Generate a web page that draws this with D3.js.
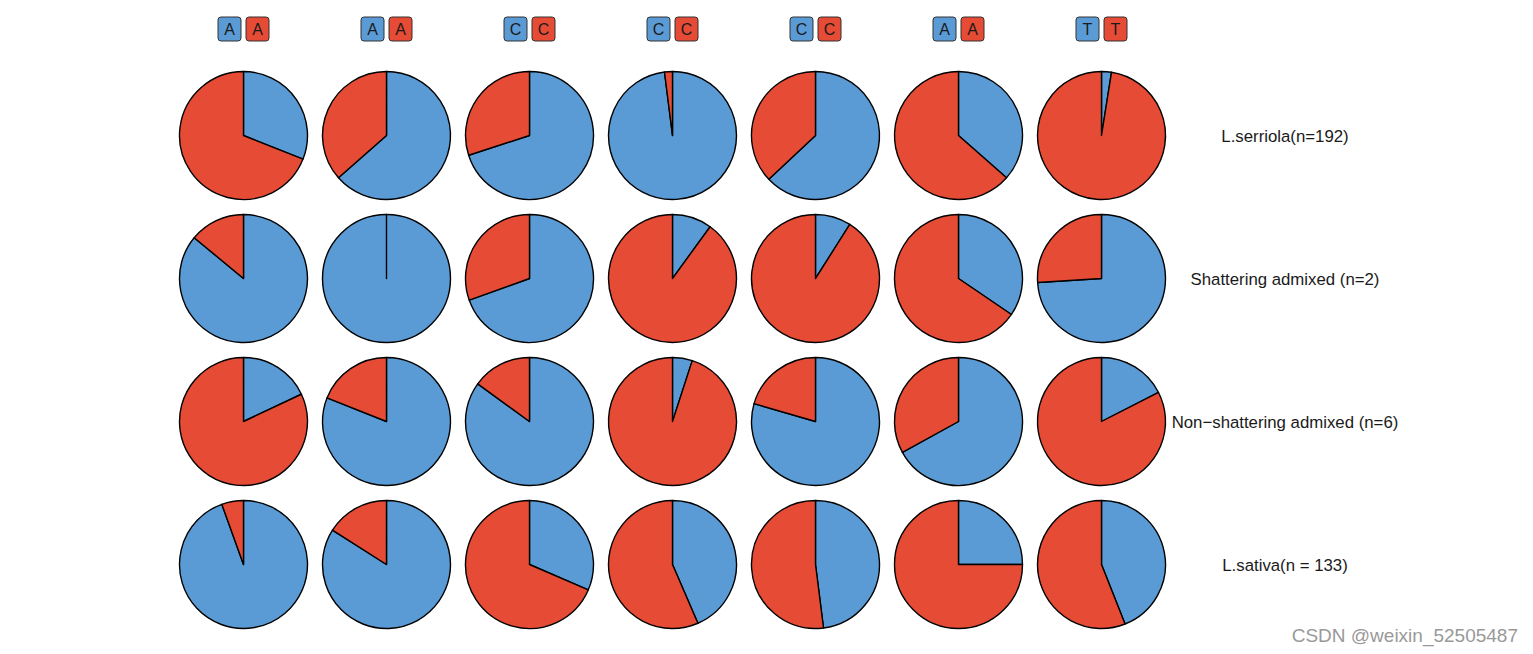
<!DOCTYPE html>
<html>
<head>
<meta charset="utf-8">
<script src="https://cdn.jsdelivr.net/npm/d3@7"></script>
<style>
  body { margin: 0; background: #fff; }
  svg { display: block; font-family: Arial, 'Liberation Sans', sans-serif; }
</style>
</head>
<body>
<div id="canvas"></div>
<script>
// allele per SNP column (first = blue, second = red)
const alleles = ['A', 'A', 'C', 'C', 'C', 'A', 'T'];
const groups = ['L.serriola(n=192)', 'Shattering admixed (n=2)', 'Non\u2212shattering admixed (n=6)', 'L.sativa(n = 133)'];

// blue-allele frequency per group, one value per column
const serriola = [0.31, 0.635, 0.70, 0.98, 0.63, 0.365, 0.025];
const shattering = [0.86, 1.0, 0.695, 0.10, 0.09, 0.345, 0.74];
const nonShattering = [0.18, 0.81, 0.85, 0.05, 0.795, 0.67, 0.175];
const sativa = [0.945, 0.84, 0.315, 0.435, 0.48, 0.25, 0.44];
const freqs = [serriola, shattering, nonShattering, sativa];

const blue = '#5b9bd5';
const red = '#e64b35';

const w = 1533;
const h = 654;
const r = 64;

const svg = d3.select('#canvas')
  .append('svg')
  .attr('width', w)
  .attr('height', h);

const xScale = d3.scaleBand()
  .domain(d3.range(alleles.length))
  .range([172, 1173]);

const yScale = d3.scaleBand()
  .domain(d3.range(groups.length))
  .range([64, 636]);

const pie = d3.pie().sort(null).value(d => d);
const arc = d3.arc().innerRadius(0).outerRadius(r);

// header boxes
const header = svg.append('g')
  .selectAll('g')
  .data(alleles)
  .enter()
  .append('g')
  .attr('transform', (d, i) => 'translate(' + (xScale(i) + xScale.bandwidth() / 2) + ', 29)');

[[-14, blue], [14, red]].forEach(function(b) {
  header.append('rect')
    .attr('x', b[0] - 11.5)
    .attr('y', -12)
    .attr('width', 23)
    .attr('height', 24)
    .attr('rx', 3)
    .attr('fill', b[1])
    .attr('stroke', '#333')
    .attr('stroke-width', 1);
  header.append('text')
    .attr('x', b[0])
    .attr('y', 6)
    .attr('text-anchor', 'middle')
    .style('font-size', '16px')
    .attr('fill', '#1a1a1a')
    .text(d => d);
});

// pies
freqs.forEach(function(row, ri) {
  const cells = svg.append('g')
    .selectAll('g')
    .data(row)
    .enter()
    .append('g')
    .attr('transform', (d, i) => 'translate(' + (xScale(i) + xScale.bandwidth() / 2) + ', ' + (yScale(ri) + yScale.bandwidth() / 2) + ')');

  cells.selectAll('path')
    .data(d => pie([d, 1 - d]))
    .enter()
    .append('path')
    .attr('d', arc)
    .attr('fill', (d, i) => i === 0 ? blue : red)
    .attr('stroke', '#000')
    .attr('stroke-width', 1.4)
    .attr('stroke-linejoin', 'round');

  svg.append('text')
    .attr('x', 1285)
    .attr('y', yScale(ri) + yScale.bandwidth() / 2 + 6)
    .attr('text-anchor', 'middle')
    .style('font-size', '16.8px')
    .attr('fill', '#1a1a1a')
    .text(groups[ri]);
});

svg.append('text')
  .attr('x', 1518)
  .attr('y', 642)
  .attr('text-anchor', 'end')
  .style('font-size', '19px')
  .attr('fill', '#999')
  .text('CSDN @weixin_52505487');
</script>
</body>
</html>
